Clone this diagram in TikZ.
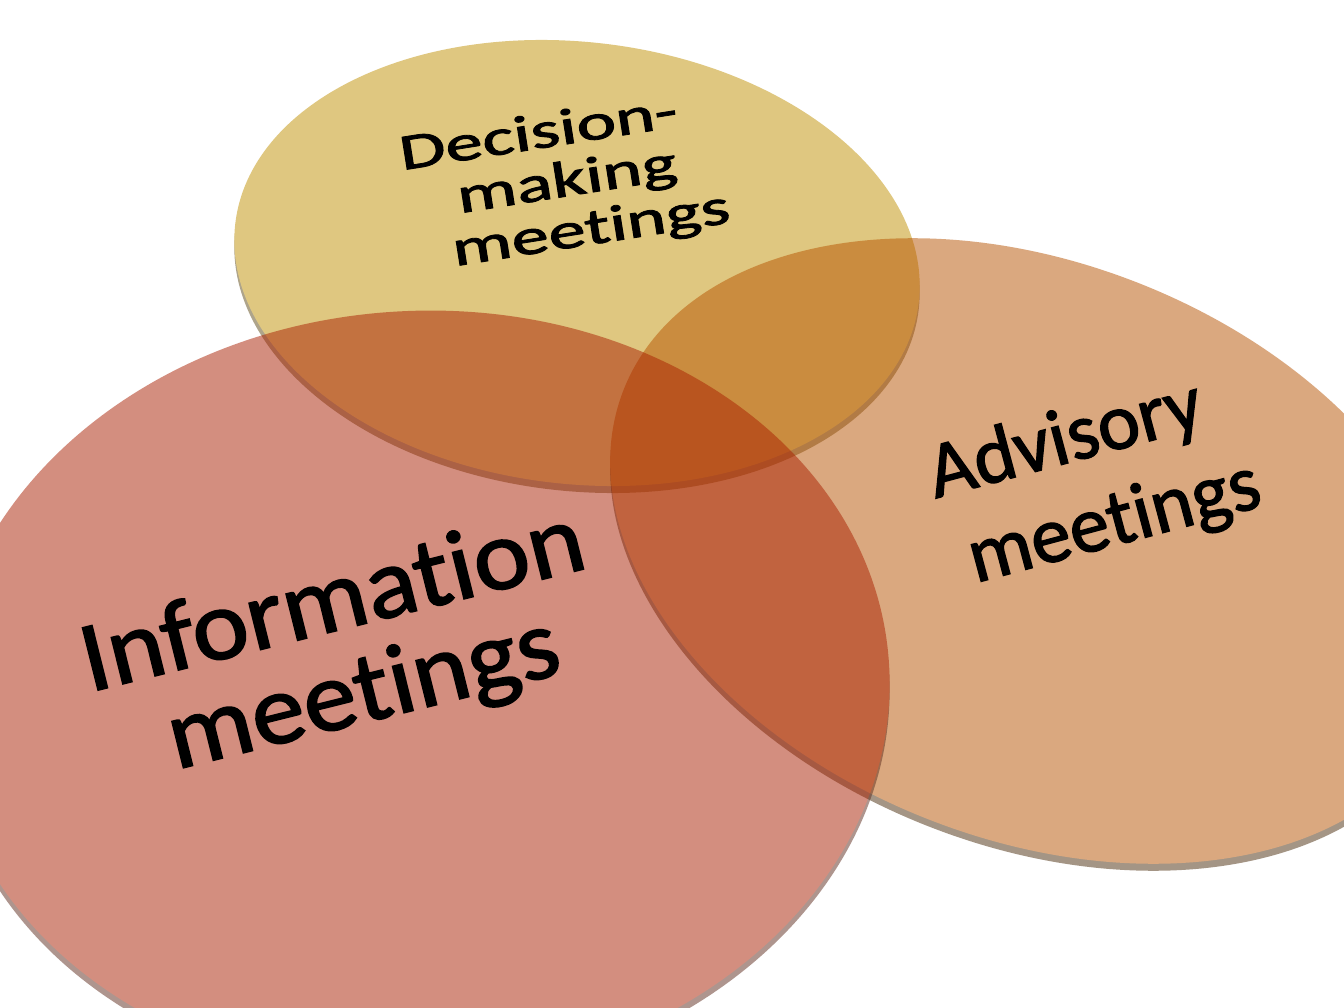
\documentclass[tikz,border=0pt]{standalone}
\usepackage{fontspec}
\setmainfont{Carlito}[Ligatures={NoCommon}]
\newfontfamily\lblfont{Carlito}[Ligatures={NoCommon}, FakeBold=1.6]
\definecolor{colY}{RGB}{193,145,2}
\definecolor{colO}{RGB}{183,83,0}
\definecolor{colR}{RGB}{169,31,1}
\definecolor{rimY}{RGB}{95,75,25}
\definecolor{rimO}{RGB}{75,45,12}
\definecolor{rimR}{RGB}{95,45,30}
\begin{document}
\begin{tikzpicture}[x=1pt,y=-1pt,
  venn/.style={transparency group, opacity=0.5},
  lbl/.style={text=black, inner sep=0pt, anchor=base, align=center}]
\useasboundingbox (0,0) rectangle (1344,1008);
\fill[white] (0,0) rectangle (1344,1008);
\clip (0,0) rectangle (1344,1008);
% Decision-making (yellow)
\begin{scope}[venn]
  \fill[rimY, shift={(577,270)}, rotate=-6.5] (0,0) ellipse [x radius=344pt, y radius=221pt];
  \fill[colY, shift={(577,263)}, rotate=-6.5] (0,0) ellipse [x radius=344pt, y radius=221pt];
\end{scope}
% Advisory (orange)
\begin{scope}[venn]
  \fill[rimO, shift={(1033,558)}, rotate=-21.5] (0,0) ellipse [x radius=440pt, y radius=288pt];
  \fill[colO, shift={(1033,551)}, rotate=-21.5] (0,0) ellipse [x radius=440pt, y radius=288pt];
\end{scope}
% Information (red)
\begin{scope}[venn]
  \fill[rimR, shift={(417,701)}, rotate=3.8] (0,0) ellipse [x radius=473pt, y radius=383pt];
  \fill[colR, shift={(417,694)}, rotate=3.8] (0,0) ellipse [x radius=473pt, y radius=383pt];
\end{scope}
% labels (anchor = baseline of the last line)
\node[lbl, rotate=9, xscale=1.47, font=\lblfont\fontsize{51}{51.5}\selectfont] (dec) at (557,250)
  {Decision-\\\hspace*{28pt}making\\\hspace*{50pt}meetings};
\node[lbl, rotate=15, font=\lblfont\fontsize{80}{92}\selectfont] (adv) at (1095,551)
  {Advisory\\\hspace*{52pt}meetings};
\node[lbl, rotate=14, xscale=1.07, font=\lblfont\fontsize{100}{96}\selectfont] (info) at (363,723)
  {Information\\\hspace*{14pt}meetings};
\end{tikzpicture}
\end{document}
